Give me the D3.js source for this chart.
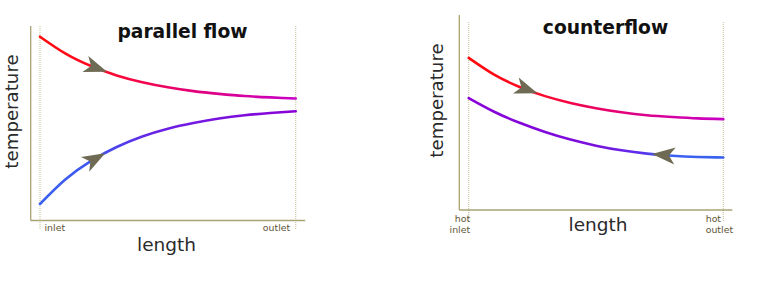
<!DOCTYPE html>
<html><head><meta charset="utf-8">
<script src="https://cdn.jsdelivr.net/npm/d3@7"></script>
<style>html,body{margin:0;padding:0;background:#fff;}svg{display:block;}</style>
</head><body>
<svg id="chart" width="768" height="287"></svg>
<script>
// ---- data ----
const positions = [0,0.1,0.2,0.3,0.4,0.5,0.6,0.7,0.8,0.9,1.0];   // relative length
const parallelHot  = [94.5,85.8,79.4,74.6,71.1,68.5,66.5,65.1,64.0,63.3,62.7];
const parallelCold = [8.5,21.2,30.7,37.8,43.2,47.2,50.1,52.4,54.1,55.3,56.2];
const counterHot   = [78.0,69.4,63.1,58.4,54.9,52.2,50.1,48.6,47.7,47.0,46.6];
const counterCold  = [57.4,50.4,44.7,40.0,36.1,33.0,30.6,28.9,27.8,27.2,26.9];
const panelTitles = ["parallel flow","counterflow"];
const parallelEndLabels = [["inlet"],["outlet"]];
const counterEndLabels = [["hot","inlet"],["hot","outlet"]];
// arrow positions (relative length of tip) and direction (+1 right, -1 left)
const parallelArrows = [{s:0.262,dir:1,series:"hot"},{s:0.255,dir:1,series:"cold"}];
const counterArrows  = [{s:0.27,dir:1,series:"hot"},{s:0.72,dir:-1,series:"cold"}];

const svg = d3.select("#chart");
const defs = svg.append("defs");
const axisColor = "#a9a273";
const dotColor = "#cfc8a2";
const arrowColor = "#6e6a53";
const labelColor = "#5e5535";

function grad(id, x0, x1, stops){
  const g = defs.append("linearGradient").attr("id",id)
    .attr("gradientUnits","userSpaceOnUse").attr("x1",x0).attr("x2",x1).attr("y1",0).attr("y2",0);
  stops.forEach(([o,c])=>g.append("stop").attr("offset",o).attr("stop-color",c));
  return `url(#${id})`;
}

function panel(cfg){
  const x = d3.scaleLinear().domain([0,1]).range(cfg.xr);
  const y = d3.scaleLinear().domain([0,100]).range(cfg.yr);
  const g = svg.append("g");
  const x0 = x(0), x1 = x(1), yb = y(0), yt = y(100);
  // dotted end lines
  [x0,x1].forEach(xx=>{
    g.append("line").attr("x1",xx).attr("x2",xx).attr("y1",cfg.dotTop).attr("y2",yb+cfg.dotBelow)
      .attr("stroke",dotColor).attr("stroke-width",1.2).attr("stroke-dasharray","1,1");
  });
  // axes
  g.append("line").attr("x1",cfg.yAxisX).attr("x2",cfg.yAxisX).attr("y1",yt).attr("y2",yb)
    .attr("stroke",axisColor).attr("stroke-width",1.3);
  g.append("line").attr("x1",cfg.yAxisX).attr("x2",x1+cfg.xAxisExtra).attr("y1",yb).attr("y2",yb)
    .attr("stroke",axisColor).attr("stroke-width",1.3);

  const line = d3.line().x((d,i)=>x(positions[i])).y(d=>y(d)).curve(d3.curveNatural);
  const series = {hot:cfg.hot, cold:cfg.cold};
  g.append("path").attr("d",line(cfg.hot)).attr("fill","none")
    .attr("stroke",grad(cfg.id+"h",x0,x1,cfg.hotStops)).attr("stroke-width",2.6).attr("stroke-linecap","round");
  g.append("path").attr("d",line(cfg.cold)).attr("fill","none")
    .attr("stroke",grad(cfg.id+"c",x0,x1,cfg.coldStops)).attr("stroke-width",2.6).attr("stroke-linecap","round");

  // arrows
  cfg.arrows.forEach(a=>{
    const vals = series[a.series];
    const interp = s => { const k = Math.min(positions.length-2, Math.floor(s*10));
      const t = (s-positions[k])/(positions[k+1]-positions[k]); return vals[k]+(vals[k+1]-vals[k])*t; };
    const tx = x(a.s), ty = y(interp(a.s));
    const bx = x(a.s - a.dir*0.06), by = y(interp(a.s - a.dir*0.06));
    const ang = Math.atan2(ty-by, tx-bx)*180/Math.PI;
    g.append("path").attr("d","M0,0 L-23,-8.5 L-17,0 L-23,8.5 Z")
      .attr("transform",`translate(${tx},${ty}) rotate(${ang})`).attr("fill",arrowColor);
  });

  // titles and labels
  g.append("text").attr("x",cfg.titleX).attr("y",cfg.titleY).attr("text-anchor","middle")
    .attr("font-family","DejaVu Sans").attr("font-weight","bold").attr("font-size",18.7)
    .attr("fill","#111").text(cfg.title);
  g.append("text").attr("transform",`translate(${cfg.tempX},${cfg.tempY}) rotate(-90)`).attr("text-anchor","middle")
    .attr("font-family","DejaVu Sans").attr("font-size",18.2).attr("fill","#2a2a2a").text("temperature");
  g.append("text").attr("x",cfg.lenX).attr("y",cfg.lenY).attr("text-anchor","middle")
    .attr("font-family","DejaVu Sans").attr("font-size",18.5).attr("fill","#2a2a2a").text("length");
  // end labels
  cfg.endLabels.forEach((lines,i)=>{
    const t = g.append("text").attr("font-family","DejaVu Sans").attr("font-size",9.4).attr("fill",labelColor)
      .attr("text-anchor",cfg.endAnchors[i]);
    lines.forEach((ln,j)=>t.append("tspan").attr("x",(i?x1:x0)+cfg.endDx[i]).attr("y",cfg.endY+j*11.5).text(ln));
  });
}

panel({id:"p", xr:[40,295.7], yr:[220.5,26], yAxisX:30.7, xAxisExtra:9.5, dotTop:26, dotBelow:9,
  hot:parallelHot, cold:parallelCold, arrows:parallelArrows,
  hotStops:[[0,"#ff0a0a"],[0.25,"#ff0a2a"],[0.6,"#e2007a"],[1,"#c800c8"]],
  coldStops:[[0,"#3a60f0"],[0.22,"#3f55f0"],[0.45,"#6a22e4"],[1,"#8a00d8"]],
  title:panelTitles[0], titleX:182.5, titleY:38,
  tempX:17.5, tempY:111.5, lenX:166.5, lenY:250.5,
  endLabels:parallelEndLabels, endAnchors:["start","end"], endDx:[4.5,-5.5], endY:230.5});

panel({id:"c", xr:[468.7,723.3], yr:[210,15], yAxisX:459.3, xAxisExtra:9, dotTop:22, dotBelow:12,
  hot:counterHot, cold:counterCold, arrows:counterArrows,
  hotStops:[[0,"#ff0a0a"],[0.28,"#ff0a2a"],[0.6,"#e2007a"],[1,"#c800c8"]],
  coldStops:[[0,"#8a00d8"],[0.5,"#7a10dc"],[0.68,"#5a30ec"],[0.76,"#3a60f0"],[1,"#3a60f0"]],
  title:panelTitles[1], titleX:605.5, titleY:33.5,
  tempX:443, tempY:100.5, lenX:598, lenY:231,
  endLabels:counterEndLabels, endAnchors:["end","start"], endDx:[1.5,-17.6], endY:221.5});
</script>
</body></html>
